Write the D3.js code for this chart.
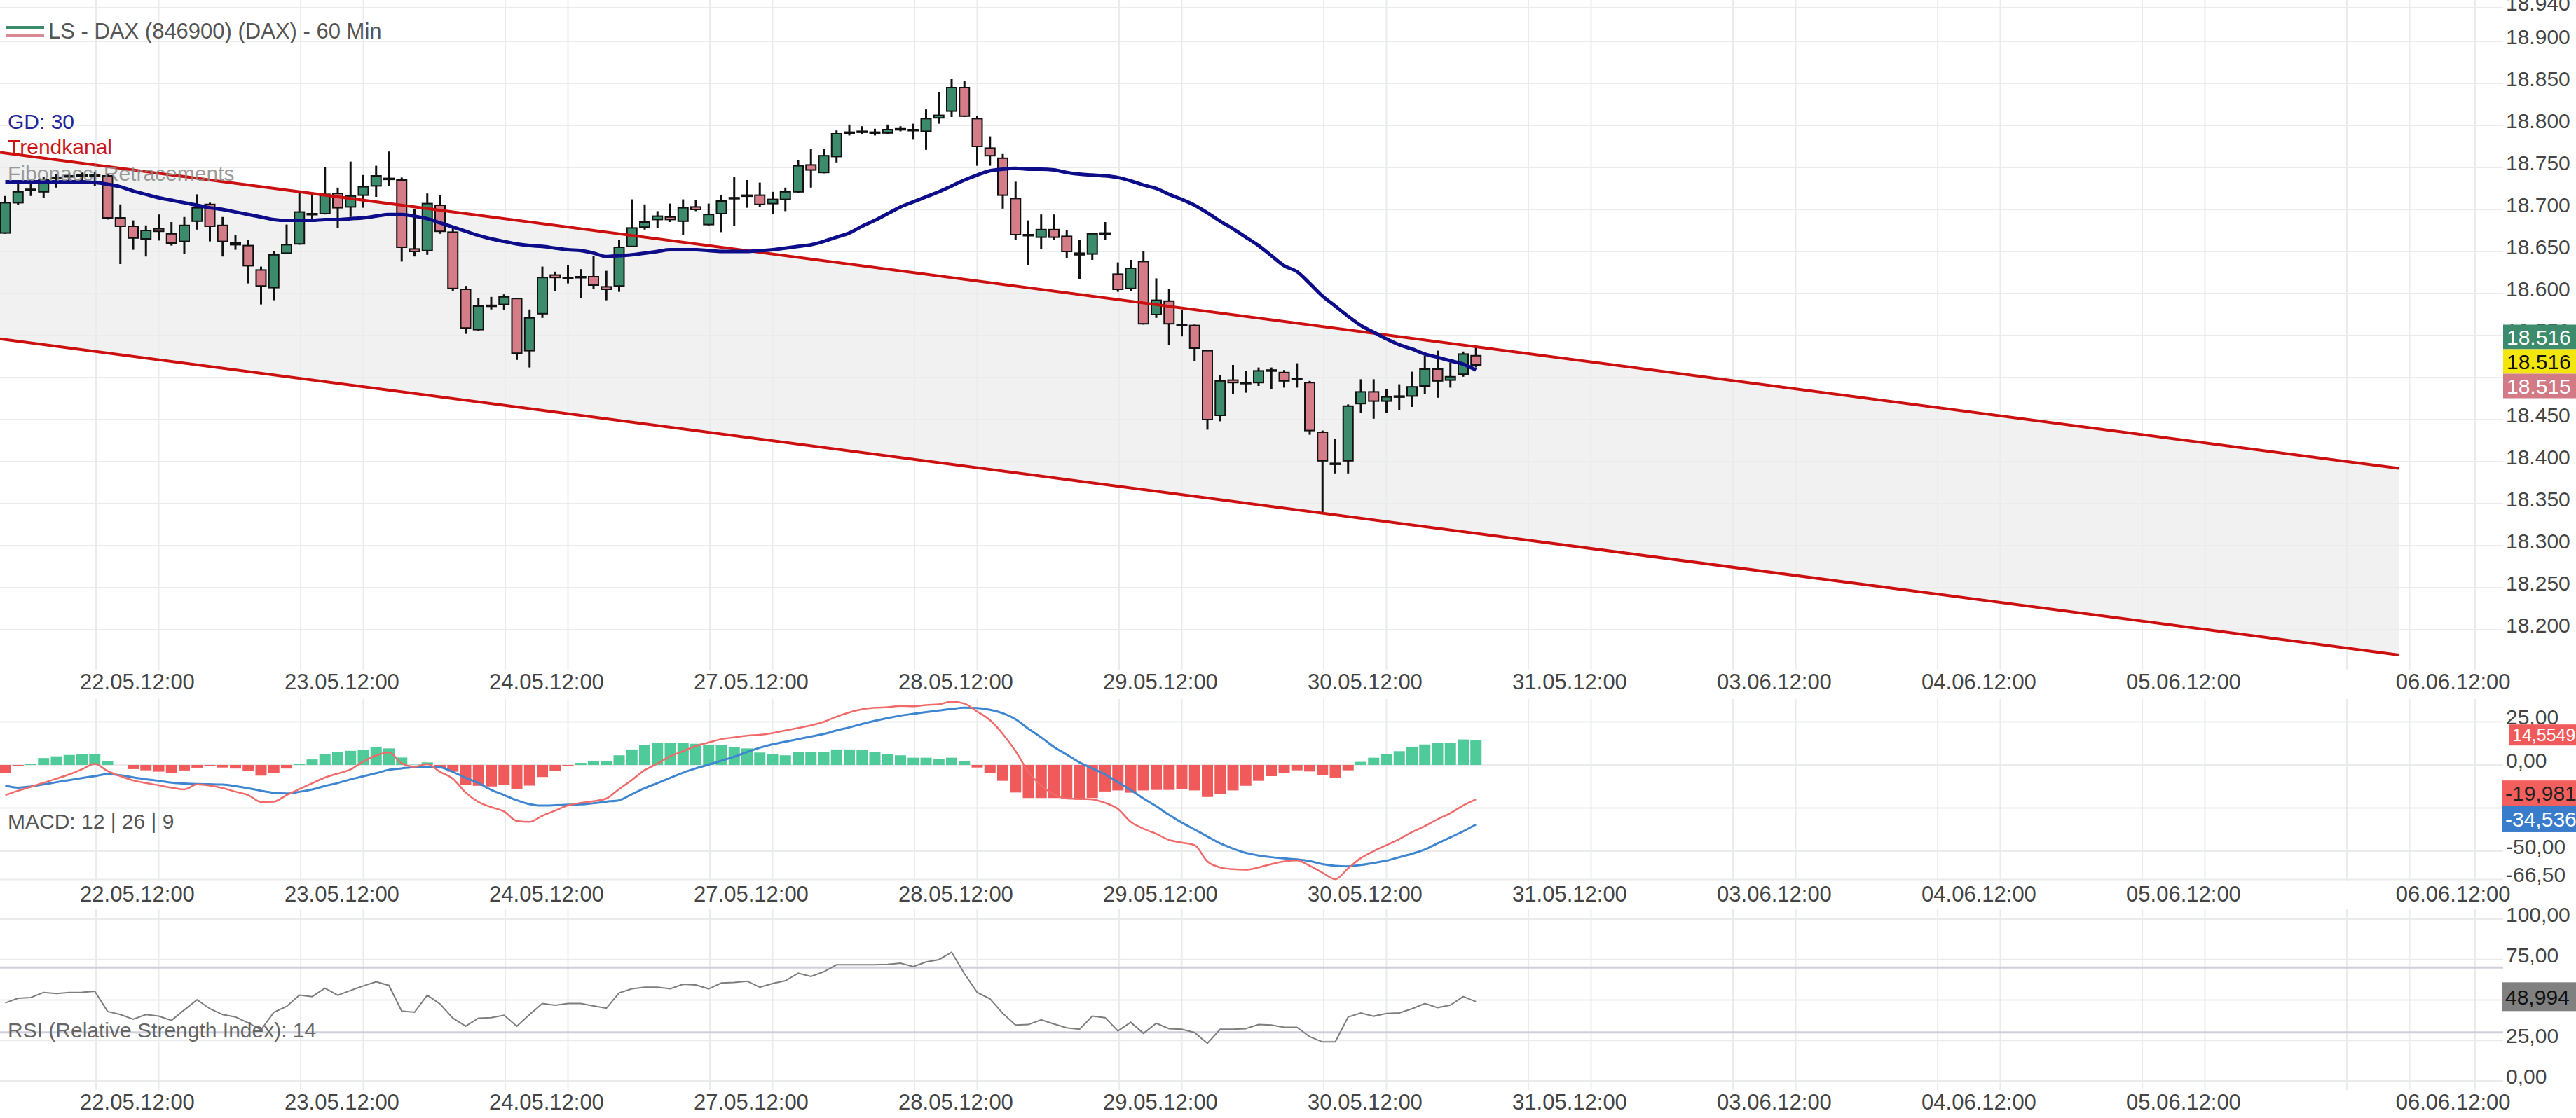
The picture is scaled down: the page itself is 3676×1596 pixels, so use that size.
<!DOCTYPE html>
<html><head><meta charset="utf-8">
<script src="https://cdn.jsdelivr.net/npm/d3@7"></script>
<style>
body{margin:0;background:#fff}
svg{display:block}
text{font-family:"Liberation Sans",Arial,sans-serif}
</style></head>
<body><svg id="chart" width="3676" height="1596"></svg>
<script>
// ---------- DATA ----------
const opens=[18672,18708,18724,18721,18737,18739,18740,18741,18740,18690,18680,18665,18677,18671,18662,18686,18706,18681,18660,18657,18628,18607,18648,18659,18694,18695,18719,18703,18717,18728,18736,18735,18653,18651,18705,18673,18605,18557,18585,18587,18594,18532,18576,18622,18618,18620,18620,18608,18609,18656,18679,18688,18691,18686,18703,18682,18695,18713,18716,18717,18707,18712,18721,18753,18744,18763,18791,18792,18791,18791,18796,18794,18793,18809,18817,18845,18808,18773,18761,18713,18669,18667,18676,18668,18648,18647,18671,18623,18606,18638,18575,18591,18562,18562,18532,18455,18497,18494,18494,18508,18506,18499,18494,18435,18398,18401,18469,18483,18472,18477,18478,18490,18510,18497,18504,18526];
const highs=[18716,18731,18731,18739,18742,18743,18744,18745,18742,18706,18687,18681,18694,18685,18691,18718,18708,18691,18670,18664,18632,18650,18682,18720,18717,18750,18726,18757,18741,18752,18769,18738,18700,18719,18717,18678,18609,18595,18596,18599,18595,18581,18632,18626,18634,18629,18645,18627,18664,18712,18706,18698,18707,18712,18711,18707,18717,18739,18735,18732,18721,18726,18759,18772,18772,18794,18801,18799,18796,18801,18799,18802,18819,18840,18855,18853,18811,18787,18766,18733,18687,18694,18694,18675,18664,18672,18685,18637,18640,18650,18618,18605,18580,18563,18533,18503,18515,18508,18512,18512,18509,18517,18496,18437,18427,18468,18498,18498,18486,18492,18507,18526,18532,18518,18531,18538];
const lows=[18671,18705,18716,18714,18726,18734,18733,18728,18688,18635,18652,18644,18663,18657,18647,18676,18662,18644,18652,18612,18587,18592,18647,18658,18689,18694,18678,18691,18702,18715,18728,18638,18644,18646,18671,18603,18552,18555,18581,18580,18521,18512,18571,18603,18612,18595,18605,18592,18602,18655,18676,18678,18685,18670,18698,18681,18673,18680,18702,18703,18695,18698,18720,18726,18743,18756,18788,18790,18788,18790,18793,18783,18771,18802,18810,18810,18752,18752,18701,18664,18634,18653,18664,18642,18617,18640,18664,18602,18603,18563,18571,18539,18549,18520,18438,18448,18480,18482,18490,18486,18488,18488,18432,18338,18386,18386,18458,18451,18458,18461,18465,18480,18476,18488,18501,18512];
const closes=[18708,18721,18723,18735,18738,18740,18741,18740,18690,18680,18666,18675,18674,18660,18681,18702,18680,18662,18658,18633,18609,18646,18658,18697,18695,18718,18702,18716,18727,18740,18737,18655,18650,18707,18674,18606,18559,18585,18586,18596,18529,18571,18619,18619,18619,18620,18610,18605,18655,18678,18685,18692,18688,18702,18700,18694,18710,18714,18717,18706,18712,18721,18752,18747,18764,18790,18792,18793,18792,18795,18796,18795,18808,18812,18845,18811,18775,18764,18717,18670,18670,18676,18667,18650,18646,18671,18672,18605,18630,18564,18592,18564,18563,18535,18450,18496,18494,18493,18508,18509,18496,18498,18437,18401,18397,18466,18483,18472,18477,18478,18489,18510,18496,18501,18528,18515];
const ma30=[18733,18733,18733,18733,18733,18733,18733,18732,18730,18727,18722,18718,18714,18711,18708,18705,18702,18700,18697,18694,18691,18688,18687,18687,18687,18688,18688,18689,18690,18692,18694,18694,18692,18689,18684,18679,18674,18669,18665,18662,18659,18657,18656,18654,18652,18651,18648,18644,18645,18646,18648,18650,18652,18652,18652,18651,18650,18650,18650,18651,18652,18654,18656,18658,18662,18667,18672,18680,18687,18695,18703,18709,18715,18721,18728,18735,18741,18746,18748,18749,18748,18748,18747,18744,18742,18741,18740,18738,18734,18729,18725,18718,18712,18705,18696,18686,18677,18667,18657,18645,18633,18626,18612,18597,18585,18573,18562,18554,18546,18539,18534,18528,18524,18520,18516,18509];
const channelIdx=[-0.41,187.15];
const channelUpper=[18768,18392];
const channelLower=[18546,18170];
const macdLine=[-17.5,-15,-12.7,-10.3,-8,-5.5,-2.5,0.6,-3.5,-6.5,-9,-10.5,-11.8,-13.2,-14.2,-11.3,-12,-13.4,-15.5,-17.5,-21.5,-21.3,-17.5,-14,-10.6,-7.3,-5,-2.6,2,5.5,7.3,1,-1,0.5,-4,-8,-16,-21.5,-24.5,-27,-32.5,-33,-29.5,-26.5,-23.5,-22,-21,-19.5,-14,-8.7,-3,0.8,5,8,11,13,15,16,17,17.5,18.5,20,21.5,23,25,28,30.5,32.3,33.2,33.5,34.2,34,34.8,35.2,36.8,35.6,31,26,18,8,-4,-12,-17,-19.5,-19.7,-20,-22,-25.5,-33,-37,-40,-43.5,-45,-46.5,-56,-59.5,-60.5,-60.8,-59.5,-57.5,-56,-55.4,-58.5,-62.5,-66.3,-60,-54,-50,-46.5,-43,-39,-35.5,-31.5,-28,-23.5,-19.981];
const signalLine=[-12,-13.2,-12.5,-11.3,-10,-8.8,-7.6,-6.5,-5.3,-6,-7.2,-8.3,-9.2,-10.3,-10.8,-11.1,-11.2,-11.4,-12.3,-13.5,-15,-16.2,-16.6,-15.6,-14.2,-12.2,-10.5,-8.4,-6.6,-4.8,-2.8,-2,-1.3,-1.2,-1.4,-4,-7.5,-10.5,-14.5,-17.5,-20.5,-22.8,-23.6,-23.4,-23.1,-22.9,-22.2,-21.3,-20.5,-17,-13.5,-10.5,-7.5,-4.5,-2,0.2,2.5,4.8,7.5,10,12,13.5,15,16.5,18,20,21.8,23.8,25.6,27.2,28.6,29.7,30.7,31.6,32.5,33.2,33,32,30,26.5,21,16,10.5,6,1.5,-2,-5.5,-10,-14.5,-19.5,-24,-29,-33.5,-37.5,-41.5,-45.5,-48.5,-51,-52.5,-53.5,-54.2,-54.8,-55.8,-57.5,-58.5,-58.8,-58,-56.8,-55.5,-53.5,-51.5,-49,-45.5,-42,-38.5,-34.536];
const macdHist=[-4.6,-0.6,0.6,4,5,5.8,6.5,6.5,2.4,0,-2.4,-3.1,-3.9,-4.6,-3.2,-1.6,-0.6,-1.5,-2.1,-3.6,-6.2,-4.6,-2.1,0.7,3.2,6.5,7.5,8.2,8.9,10.6,9.6,4.3,0.2,1.5,-1.7,-3.9,-11.4,-12.1,-12.5,-11.5,-13.8,-12,-7,-3.3,-0.4,1.2,2.2,2.2,5.6,9,11.4,13,13,13,12.3,11.4,11.4,10.6,9.6,7.2,6.5,5.6,7.6,7.6,7.6,9,9,8.7,7.6,6.2,5.6,4.2,4.2,3.5,4.2,2.4,-1.5,-4.5,-9.2,-16,-19.2,-19.2,-19.2,-19.5,-20.2,-19.2,-15.4,-14.8,-16.1,-14.8,-14.5,-14.5,-14.1,-14.8,-18.6,-16.8,-14.8,-12.1,-9.2,-6.5,-4.5,-3.1,-3.8,-5.8,-7.3,-3.1,1.8,4.2,6.5,8,10.6,11.9,12.7,13,14.8,14.55493];
const rsi=[48.2,51.1,51.5,54.7,54,54.7,54.8,55.4,42.9,41,38.1,41,40,37.4,43.9,50.1,44.6,41,39.5,35.9,31.6,42.4,46,53,52.1,57.3,53,55.9,58.7,61.2,59,43.2,42.4,53,47.5,38.8,33.8,38.8,39.1,40.6,33.8,41,47.8,46.8,47.8,47.8,46.3,44.9,54.4,56.9,57.9,57.9,56.9,59.7,59.3,56.9,60.5,60.8,61.6,57.9,60.2,61.9,66.5,64.5,67.4,71.7,71.7,71.7,71.7,72,72.7,70.6,73.5,74.9,79.5,66.2,54.7,50.7,41.7,34.5,34.8,37.7,35.2,32.8,31.9,40,39.1,30.9,36.2,29.4,35.6,32.3,31.9,29.9,23.2,31.9,31.9,32.3,34.8,34.5,33.1,33.1,27.3,24.1,24.1,39.5,42,40,41.7,42,44.6,47.8,45.3,46.8,52.1,48.994];
const dayLabels=["22.05.12:00","23.05.12:00","24.05.12:00","27.05.12:00","28.05.12:00","29.05.12:00","30.05.12:00","31.05.12:00","03.06.12:00","04.06.12:00","05.06.12:00","06.06.12:00"];
const priceTicks=[18200,18250,18300,18350,18400,18450,18550,18600,18650,18700,18750,18800,18850,18900,18940];
const priceGrid=[18200,18250,18300,18350,18400,18450,18500,18550,18600,18650,18700,18750,18800,18850,18900,18940];
const macdTicks=[25,0,-50,-66.5];
const macdGrid=[25,0,-25,-50,-66.5];
const rsiTicks=[100,75,25,0];
const rsiGrid=[100,75,50,25,0];
const rsiBands=[70,30];
const lastPrices=[{label:"18.516",bg:"#3d8b6d",fg:"#fff"},{label:"18.516",bg:"#f3e60c",fg:"#111"},{label:"18.515",bg:"#d27a85",fg:"#fff"}];
const titleText="LS - DAX (846900) (DAX) - 60 Min";

// ---------- SETUP ----------
const svg=d3.select("#chart");
const BAR=18.25, BARS_PER_DAY=16;
const n=opens.length;
const x=d3.scaleLinear().domain([0,n-1]).range([7.5,7.5+BAR*(n-1)]);
const yP=d3.scaleLinear().domain([18200,18900]).range([899,59]);
const yM=d3.scaleLinear().domain([-66.5,25]).range([1255.6,1030.5]);
const yR=d3.scaleLinear().domain([0,100]).range([1543,1312]);
const loc=d3.formatLocale({decimal:",",thousands:".",grouping:[3],currency:["","€"],minus:"-"});
const fPrice=loc.format(",.0f"), f2=loc.format(",.2f"), f3=loc.format(",.3f"), f5=loc.format(",.5f");
const RIGHT=3572, LABX=3576, AXLINE=3532;
const panels=[[0,957],[998,1258],[1298,1556]];
const GRID="#eaebeb";

// channel fill
const chPts=[[channelIdx[0],channelUpper[0]],[channelIdx[1],channelUpper[1]],[channelIdx[1],channelLower[1]],[channelIdx[0],channelLower[0]]];
svg.append("path").attr("d",d3.line().x(d=>x(d[0])).y(d=>yP(d[1]))(chPts)+"Z").attr("fill","#f1f1f1");

// vertical gridlines
const gridIdx=[];
for(let k=-1;k<13;k++){gridIdx.push(7.1+BARS_PER_DAY*k);gridIdx.push(12+BARS_PER_DAY*k);}
const vx=gridIdx.map(d=>x(d)).filter(v=>v>0&&v<AXLINE-5).concat([AXLINE]);
panels.forEach(p=>{
  svg.append("g").selectAll("line").data(vx).join("line")
   .attr("x1",d=>d).attr("x2",d=>d).attr("y1",p[0]).attr("y2",p[1])
   .attr("stroke",GRID).attr("stroke-width",2);
});
// horizontal gridlines
function hgrid(vals,scale){
  svg.append("g").selectAll("line").data(vals).join("line")
   .attr("x1",0).attr("x2",RIGHT).attr("y1",d=>scale(d)).attr("y2",d=>scale(d))
   .attr("stroke",GRID).attr("stroke-width",2);
}
hgrid(priceGrid,yP); hgrid(macdGrid,yM); hgrid(rsiGrid,yR);
svg.append("g").selectAll("line").data(rsiBands).join("line")
  .attr("x1",0).attr("x2",RIGHT).attr("y1",d=>yR(d)).attr("y2",d=>yR(d))
  .attr("stroke","#cfd0dc").attr("stroke-width",3);

// candles
const cg=svg.append("g");
const idx=d3.range(n);
cg.selectAll("line").data(idx).join("line")
  .attr("x1",i=>x(i)).attr("x2",i=>x(i)).attr("y1",i=>yP(highs[i])).attr("y2",i=>yP(lows[i]))
  .attr("stroke","#111").attr("stroke-width",3);
cg.selectAll("rect").data(idx).join("rect")
  .attr("x",i=>x(i)-7).attr("width",14)
  .attr("y",i=>yP(Math.max(opens[i],closes[i])))
  .attr("height",i=>Math.max(1.5,Math.abs(yP(opens[i])-yP(closes[i]))))
  .attr("fill",i=>closes[i]>=opens[i]?"#3d8b6d":"#d47d89")
  .attr("stroke","#111").attr("stroke-width",2);

// channel lines
[channelUpper,channelLower].forEach(arr=>{
  svg.append("line").attr("x1",x(channelIdx[0])).attr("x2",x(channelIdx[1]))
   .attr("y1",yP(arr[0])).attr("y2",yP(arr[1]))
   .attr("stroke","#cc1010").attr("stroke-width",4);
});
// MA 30
svg.append("path").datum(ma30)
  .attr("d",d3.line().x((d,i)=>x(i)).y(d=>yP(d)).curve(d3.curveMonotoneX))
  .attr("fill","none").attr("stroke","#0d0d8a").attr("stroke-width",5).attr("stroke-linejoin","round");

// MACD histogram
svg.append("g").selectAll("rect").data(idx).join("rect")
  .attr("x",i=>x(i)-8).attr("width",16)
  .attr("y",i=>Math.min(yM(0),yM(macdHist[i])))
  .attr("height",i=>Math.abs(yM(macdHist[i])-yM(0)))
  .attr("fill",i=>macdHist[i]>=0?"#4ecb98":"#f05a5a");
svg.append("path").datum(signalLine)
  .attr("d",d3.line().x((d,i)=>x(i)).y(d=>yM(d)).curve(d3.curveMonotoneX))
  .attr("fill","none").attr("stroke","#3f86d1").attr("stroke-width",3);
svg.append("path").datum(macdLine)
  .attr("d",d3.line().x((d,i)=>x(i)).y(d=>yM(d)).curve(d3.curveMonotoneX))
  .attr("fill","none").attr("stroke","#f06a6a").attr("stroke-width",2.5);

// RSI
svg.append("path").datum(rsi)
  .attr("d",d3.line().x((d,i)=>x(i)).y(d=>yR(d)))
  .attr("fill","none").attr("stroke","#7d7d7d").attr("stroke-width",2);

// x axes
const tickIdx=dayLabels.map((d,k)=>10.3+BARS_PER_DAY*k);
[973,1276,1573].forEach(yy=>{
  const g=svg.append("g").attr("transform",`translate(0,${yy})`)
   .call(d3.axisBottom(x).tickValues(tickIdx).tickFormat((d,i)=>dayLabels[i]).tickSize(0).tickPadding(0));
  g.select(".domain").remove();
  g.selectAll("text").attr("y",0).attr("dy","0.36em").attr("font-size",31).attr("fill","#444")
   .style("font-family",'"Liberation Sans",Arial,sans-serif');
  g.selectAll(".tick").filter((d,i)=>i===dayLabels.length-1).select("text")
   .attr("text-anchor","end").attr("x",3582-x(tickIdx[tickIdx.length-1]));
});

// y labels
function ylabels(vals,scale,fmt){
  svg.append("g").selectAll("text").data(vals).join("text")
   .attr("x",LABX).attr("y",d=>scale(d)-7).attr("dy","0.36em")
   .attr("font-size",30).attr("fill","#444").text(fmt);
}
ylabels(priceTicks,yP,fPrice);
ylabels(macdTicks,yM,f2);
ylabels(rsiTicks,yR,f2);

// badges
function badge(cy,h,x0,bg,fg,label,fs){
  svg.append("rect").attr("x",x0).attr("y",cy-h/2).attr("width",3676-x0).attr("height",h).attr("fill",bg);
  svg.append("text").attr("x",x0+5).attr("y",cy).attr("dy","0.36em").attr("font-size",fs||30).attr("fill",fg).text(label);
}
const lastClose=closes[n-1];
const midY=yP(lastClose)-5;
lastPrices.forEach((p,k)=>badge(midY+(k-1)*35,35,RIGHT,p.bg,p.fg,p.label));
const lastHist=macdHist[n-1], lastMacd=macdLine[n-1], lastSig=signalLine[n-1];
badge(yM(lastHist)-7,30,3580,"#f05a5a","#fff",f5(lastHist),25);
badge(yM(lastMacd)-9,36,3570,"#f25f5c","#222",f3(lastMacd));
badge(yM(lastSig)-8,38,3570,"#3a7ccc","#fff",f3(lastSig));
badge(yR(rsi[n-1])-7,41,3570,"#808080","#111",f3(rsi[n-1]));

// title + legend
svg.append("line").attr("x1",9).attr("x2",63).attr("y1",39).attr("y2",39).attr("stroke","#3d8b6d").attr("stroke-width",4);
svg.append("line").attr("x1",9).attr("x2",63).attr("y1",51).attr("y2",51).attr("stroke","#d88a94").attr("stroke-width",4);
svg.append("text").attr("x",69).attr("y",44).attr("dy","0.36em").attr("font-size",31).attr("fill","#555").text(titleText);
svg.append("text").attr("x",11).attr("y",173).attr("dy","0.36em").attr("font-size",30).attr("fill","#25259a").text("GD: 30");
svg.append("text").attr("x",11).attr("y",209).attr("dy","0.36em").attr("font-size",30).attr("fill","#cc1414").text("Trendkanal");
svg.append("text").attr("x",11).attr("y",247).attr("dy","0.36em").attr("font-size",30).attr("fill","#8a8a8a").attr("opacity",0.85).text("Fibonacci Retracements");
svg.append("text").attr("x",11).attr("y",1172).attr("dy","0.36em").attr("font-size",30).attr("fill","#555").text("MACD: 12 | 26 | 9");
svg.append("text").attr("x",11).attr("y",1470).attr("dy","0.36em").attr("font-size",30).attr("fill","#666").text("RSI (Relative Strength Index): 14");
</script>
</body></html>
